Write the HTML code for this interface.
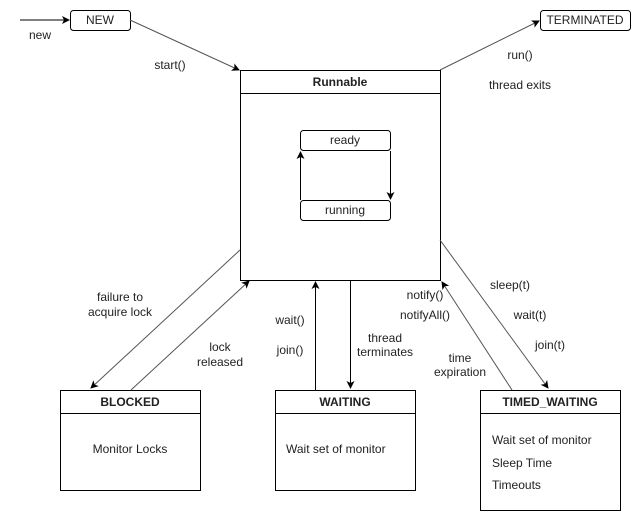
<!DOCTYPE html>
<html><head><meta charset="utf-8"><style>
html,body{margin:0;padding:0;background:#fff;}
svg{display:block;}
text{font-family:"Liberation Sans",Arial,sans-serif;font-size:12px;fill:#222;}
.h{font-size:12px;font-weight:bold;}
</style></head><body>
<svg width="641" height="521" viewBox="0 0 641 521" xmlns="http://www.w3.org/2000/svg">
<defs>
<marker id="a" markerWidth="8" markerHeight="8" refX="7" refY="4" orient="auto" markerUnits="userSpaceOnUse">
<path d="M0,0 L8,4 L0,8 L2,4 z" fill="#000"/></marker>
</defs>
<rect width="641" height="521" fill="#fff"/>
<line x1="20" y1="20" x2="69" y2="20" stroke="#000" marker-end="url(#a)"/>
<rect x="70.5" y="10.5" width="60" height="20" rx="3" fill="#fff" stroke="#000"/>
<text x="100" y="24" text-anchor="middle">NEW</text>
<text x="40" y="39" text-anchor="middle">new</text>
<line x1="130" y1="20" x2="239" y2="70" stroke="#555" marker-end="url(#a)"/>
<text x="170" y="69" text-anchor="middle">start()</text>
<rect x="540.5" y="10.5" width="90" height="20" rx="3" fill="#fff" stroke="#000"/>
<text x="585" y="24" text-anchor="middle">TERMINATED</text>
<line x1="440" y1="70" x2="539" y2="21" stroke="#555" marker-end="url(#a)"/>
<text x="520" y="59" text-anchor="middle">run()</text>
<text x="520" y="89" text-anchor="middle">thread exits</text>
<rect x="240.5" y="70.5" width="200" height="210" fill="#fff" stroke="#000"/>
<line x1="240" y1="93.5" x2="441" y2="93.5" stroke="#000"/>
<text x="340" y="86" text-anchor="middle" class="h">Runnable</text>
<rect x="300.5" y="130.5" width="90" height="20" rx="3" fill="#fff" stroke="#000"/>
<text x="345" y="144" text-anchor="middle">ready</text>
<rect x="300.5" y="200.5" width="90" height="20" rx="3" fill="#fff" stroke="#000"/>
<text x="345" y="214" text-anchor="middle">running</text>
<line x1="300.5" y1="200" x2="300.5" y2="152" stroke="#000" marker-end="url(#a)"/>
<line x1="390.5" y1="151" x2="390.5" y2="199" stroke="#000" marker-end="url(#a)"/>
<rect x="60.5" y="390.5" width="140" height="100" fill="#fff" stroke="#000"/>
<line x1="60" y1="413.5" x2="201" y2="413.5" stroke="#000"/>
<text x="130" y="406" text-anchor="middle" class="h">BLOCKED</text>
<text x="130" y="453" text-anchor="middle">Monitor Locks</text>
<line x1="240" y1="250" x2="91" y2="388" stroke="#555" marker-end="url(#a)"/>
<line x1="131" y1="390" x2="249" y2="281" stroke="#555" marker-end="url(#a)"/>
<text x="120" y="301" text-anchor="middle">failure to</text>
<text x="120" y="316" text-anchor="middle">acquire lock</text>
<text x="220" y="351" text-anchor="middle">lock</text>
<text x="220" y="366" text-anchor="middle">released</text>
<rect x="275.5" y="390.5" width="140" height="100" fill="#fff" stroke="#000"/>
<line x1="275" y1="413.5" x2="416" y2="413.5" stroke="#000"/>
<text x="345" y="406" text-anchor="middle" class="h">WAITING</text>
<text x="286" y="453">Wait set of monitor</text>
<line x1="315.5" y1="390" x2="315.5" y2="282" stroke="#000" marker-end="url(#a)"/>
<line x1="350.5" y1="281" x2="350.5" y2="388" stroke="#000" marker-end="url(#a)"/>
<text x="290" y="324" text-anchor="middle">wait()</text>
<text x="290" y="354" text-anchor="middle">join()</text>
<text x="385" y="342" text-anchor="middle">thread</text>
<text x="385" y="356" text-anchor="middle">terminates</text>
<rect x="480.5" y="390.5" width="140" height="120" fill="#fff" stroke="#000"/>
<line x1="480" y1="413.5" x2="621" y2="413.5" stroke="#000"/>
<text x="550" y="406" text-anchor="middle" class="h">TIMED_WAITING</text>
<text x="492" y="444">Wait set of monitor</text>
<text x="492" y="467">Sleep Time</text>
<text x="492" y="489">Timeouts</text>
<line x1="440" y1="240" x2="548" y2="388" stroke="#555" marker-end="url(#a)"/>
<line x1="512" y1="390" x2="442" y2="282" stroke="#555" marker-end="url(#a)"/>
<text x="425" y="299" text-anchor="middle">notify()</text>
<text x="425" y="319" text-anchor="middle">notifyAll()</text>
<text x="510" y="289" text-anchor="middle">sleep(t)</text>
<text x="530" y="319" text-anchor="middle">wait(t)</text>
<text x="550" y="349" text-anchor="middle">join(t)</text>
<text x="460" y="362" text-anchor="middle">time</text>
<text x="460" y="376" text-anchor="middle">expiration</text>
</svg>
</body></html>
